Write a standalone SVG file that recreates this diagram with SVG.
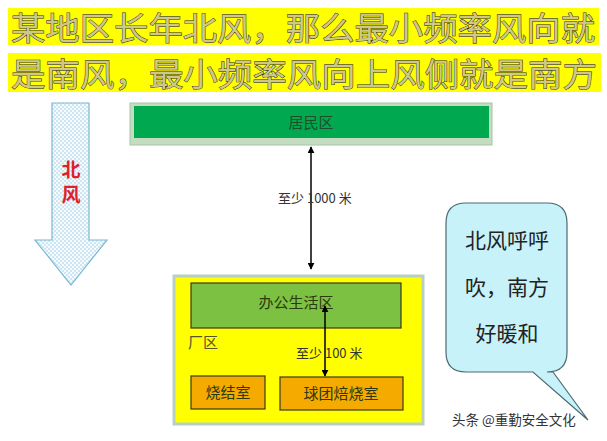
<svg xmlns="http://www.w3.org/2000/svg" width="607" height="441" viewBox="0 0 607 441">
<style>
.cjk{font-family:"Noto Sans CJK SC","Liberation Sans",sans-serif}
.head{font-size:32px;fill:#cfc886;stroke:#2a2a18;stroke-width:0.9;paint-order:stroke}
.lbl{font-size:13px;fill:#333}
.box{stroke:#3a3a20;stroke-width:1.2}
.bt{font-size:15px;fill:#2a3a10;text-anchor:middle}
.bub{font-size:21px;fill:#222;text-anchor:middle}
.conn{stroke:#000;stroke-width:1.5;fill:none}
</style>
<defs>
<pattern id="dots" width="4" height="4" patternUnits="userSpaceOnUse">
<rect width="4" height="4" fill="#f4fafd"/>
<circle cx="1" cy="1" r="0.7" fill="#8cc4dc"/>
<circle cx="3" cy="3" r="0.7" fill="#8cc4dc"/>
</pattern>
<marker id="ah" viewBox="0 0 10 10" refX="9" refY="5" markerWidth="7" markerHeight="7" orient="auto-start-reverse" markerUnits="userSpaceOnUse">
<path d="M0,0 L10,5 L0,10 z" fill="#000"/>
</marker>
</defs>
<rect width="607" height="441" fill="#fff"/>

<g id="title">
<rect x="8" y="8" width="591" height="37" fill="#ffff00"/>
<rect x="8" y="53" width="593" height="39" fill="#ffff00"/>
<text class="cjk head" x="11" y="40" textLength="584" lengthAdjust="spacingAndGlyphs">某地区长年北风，那么最小频率风向就</text>
<text class="cjk head" x="11" y="86" textLength="586" lengthAdjust="spacingAndGlyphs">是南风，最小频率风向上风侧就是南方</text>
</g>

<g id="north-wind">
<path d="M52,103 L89,103 L89,240 L107,240 L71,285 L35,240 L52,240 Z" fill="url(#dots)" stroke="#7ab8d0" stroke-width="1.2"/>
<text class="cjk" x="71" y="177" font-size="19" font-weight="bold" fill="#e0202a" text-anchor="middle">北</text>
<text class="cjk" x="71" y="202" font-size="19" font-weight="bold" fill="#e0202a" text-anchor="middle">风</text>
</g>

<g id="residential">
<rect x="130" y="103" width="362" height="42" fill="#c4dcc0" stroke="#a8c4a8" stroke-width="1"/>
<rect x="134" y="106" width="355" height="32" fill="#00a84f"/>
<text class="cjk" x="311" y="128" font-size="15" fill="#1f4f2a" text-anchor="middle">居民区</text>
</g>

<g id="factory">
<rect x="174" y="276" width="249" height="148" fill="#ffff00" stroke="#b8d0c4" stroke-width="3"/>
<text class="cjk" x="188" y="348" font-size="15" fill="#555530">厂区</text>
</g>

<g id="office">
<rect class="box" x="191" y="283" width="210" height="45" fill="#7dc142"/>
<text class="cjk bt" x="296" y="308">办公生活区</text>
</g>

<g id="sinter">
<rect class="box" x="191" y="376" width="74" height="33" fill="#f5aa00"/>
<text class="cjk bt" x="228" y="398">烧结室</text>
</g>

<g id="pellet">
<rect class="box" x="280" y="377" width="123" height="33" fill="#f5aa00"/>
<text class="cjk bt" x="341" y="399">球团焙烧室</text>
</g>

<g id="bubble">
<path d="M466,203 L547,203 Q567,203 567,223 L567,352 Q567,372 547,372 L553,372 L588,420 L533,372 L466,372 Q446,372 446,352 L446,223 Q446,203 466,203 Z" fill="#c8f2fa" stroke="#4a6a70" stroke-width="1.2"/>
<text class="cjk bub" x="507" y="248">北风呼呼</text>
<text class="cjk bub" x="507" y="295">吹，南方</text>
<text class="cjk bub" x="507" y="341">好暖和</text>
</g>

<g id="connectors">
<line class="conn" x1="311" y1="147" x2="311" y2="269" marker-start="url(#ah)" marker-end="url(#ah)"/>
<text class="cjk lbl" x="278" y="203">至少 1000 米</text>
<line class="conn" x1="325" y1="306" x2="325" y2="376" marker-start="url(#ah)" marker-end="url(#ah)"/>
<text class="cjk lbl" x="296" y="358" font-size="14">至少 100 米</text>
</g>

<text class="cjk" x="452" y="425" font-size="13.5" fill="#333">头条 @重勤安全文化</text>
</svg>
